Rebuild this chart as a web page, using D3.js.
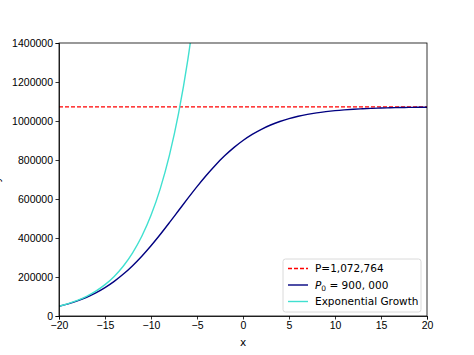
<!DOCTYPE html>
<html>
<head>
<meta charset="utf-8">
<script src="https://cdn.jsdelivr.net/npm/d3@7"></script>
<style>
  body { margin: 0; background: #fff; }
  svg { font-family: "DejaVu Sans", sans-serif; }
  .axis text { font-size: 10.5px; fill: #000; }
  .axis path, .axis line { stroke: #000; stroke-width: 0.8; }
  .label { font-size: 10.5px; fill: #000; }
</style>
</head>
<body>
<div class="content"></div>
<script>
// values
var xValues = [-20, -19, -18, -17, -16, -15, -14, -13, -12, -11, -10, -9, -8, -7, -6, -5, -4, -3, -2, -1,
    0, 1, 2, 3, 4, 5, 6, 7, 8, 9, 10, 11, 12, 13, 14, 15, 16, 17, 18, 19, 20];
var logisticValues = [50000, 62400, 77600, 96200, 118700, 145700, 177600, 215000, 257900, 306400,
    359900, 417700, 478500, 540800, 603100, 663600, 720800, 773600, 821300, 863400,
    900000, 931200, 957500, 979400, 997500, 1012300, 1024300, 1034000, 1041900, 1048100,
    1053200, 1057200, 1060400, 1062900, 1065000, 1066600, 1067900, 1068900, 1069700, 1070300, 1070800];
var expX = [-20, -19, -18, -17, -16, -15, -14, -13, -12, -11, -10, -9, -8, -7, -6, -5];
var expValues = [50000, 63200, 79800, 100800, 127300, 160700, 203000, 256300, 323700, 408800,
    516300, 652000, 823300, 1039800, 1313000, 1658000];
var capacity = 1072764;
var xTicks = [-20, -15, -10, -5, 0, 5, 10, 15, 20];
var yTicks = [0, 200000, 400000, 600000, 800000, 1000000, 1200000, 1400000];
var legendLabels = ["P=1,072,764", "P0", "Exponential Growth"];
var colors = ["red", "#000080", "#40e0d0"];

var fullWidth = 474, fullHeight = 355;
var margin = {top: 43, right: 47, bottom: 39, left: 59};
var width = fullWidth - margin.left - margin.right;
var height = fullHeight - margin.top - margin.bottom;

var svg = d3.select("div.content").append("svg")
    .attr("width", fullWidth)
    .attr("height", fullHeight);

var g = svg.append("g")
    .attr("transform", "translate(" + margin.left + "," + margin.top + ")");

var x = d3.scaleLinear().domain([-20, 20]).range([0, width]);
var y = d3.scaleLinear().domain([0, 1400000]).range([height, 0]);

g.append("clipPath").attr("id", "plot-clip")
    .append("rect").attr("width", width).attr("height", height);

var plot = g.append("g").attr("clip-path", "url(#plot-clip)");

//carrying capacity
plot.append("line")
    .attr("x1", x(-20)).attr("x2", x(20))
    .attr("y1", y(capacity)).attr("y2", y(capacity))
    .style("stroke", colors[0])
    .style("stroke-width", 1.2)
    .style("stroke-dasharray", "4,2");

var logisticLine = d3.line()
    .x(function(d, i){return x(xValues[i]);})
    .y(function(d){return y(d);})
    .curve(d3.curveMonotoneX);

var expLine = d3.line()
    .x(function(d, i){return x(expX[i]);})
    .y(function(d){return y(d);})
    .curve(d3.curveMonotoneX);

plot.append("path")
    .datum(logisticValues)
    .attr("d", logisticLine)
    .style("fill", "none")
    .style("stroke", colors[1])
    .style("stroke-width", 1.4);

plot.append("path")
    .datum(expValues)
    .attr("d", expLine)
    .style("fill", "none")
    .style("stroke", colors[2])
    .style("stroke-width", 1.4);

//axes
g.append("g")
    .attr("class", "axis")
    .attr("transform", "translate(0," + height + ")")
    .call(d3.axisBottom(x).tickValues(xTicks).tickSize(3.5).tickPadding(2.5).tickFormat(d3.format("d")));

g.append("g")
    .attr("class", "axis")
    .call(d3.axisLeft(y).tickValues(yTicks).tickSize(3.5).tickPadding(2.5).tickFormat(d3.format("d")));

//frame
g.append("rect")
    .attr("width", width).attr("height", height)
    .style("fill", "none")
    .style("stroke", "#000")
    .style("stroke-width", 0.8);

//labels
g.append("text")
    .attr("class", "label")
    .attr("x", width / 2)
    .attr("y", height + 30)
    .style("text-anchor", "middle")
    .text("x");

svg.append("text")
    .attr("class", "label")
    .attr("transform", "translate(0," + (margin.top + height / 2) + ") rotate(-90)")
    .style("text-anchor", "middle")
    .text("y");

//legend
var legend = g.append("g").attr("transform", "translate(" + (width - 144) + "," + (height - 57) + ")");
legend.append("rect")
    .attr("width", 138).attr("height", 53)
    .attr("rx", 2.5)
    .style("fill", "#fff").style("fill-opacity", 0.8)
    .style("stroke", "#d0d0d0").style("stroke-width", 0.8);

var dashes = ["4,2", null, null];
legendLabels.forEach(function(lbl, i){
    var ly = 9.5 + i * 16.5;
    legend.append("line")
        .attr("x1", 5).attr("x2", 25)
        .attr("y1", ly).attr("y2", ly)
        .style("stroke", colors[i])
        .style("stroke-width", 1.4)
        .style("stroke-dasharray", dashes[i]);
    var t = legend.append("text")
        .attr("class", "label")
        .attr("x", 32).attr("y", ly + 3.8);
    if (lbl === "P0") {
        t.append("tspan").style("font-style", "italic").text("P");
        t.append("tspan").attr("dy", 2).style("font-size", "7.5px").text("0");
        t.append("tspan").attr("dy", -2).text(" = 900, 000");
    } else {
        t.text(lbl);
    }
});
</script>
</body>
</html>
